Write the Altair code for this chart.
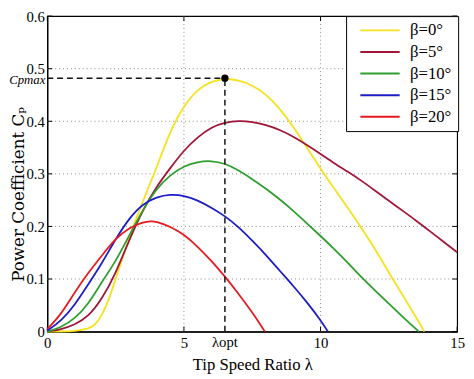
import altair as alt
import pandas as pd

# ---------------- data ----------------
series = ["β=0°", "β=5°", "β=10°", "β=15°", "β=20°"]
colors = ["#F5E21B", "#A01538", "#2E9E2E", "#1C1CC8", "#E61A1F"]

lam_b0 = [0, 0.5, 1, 1.5, 1.75, 2, 2.25, 2.5, 2.75, 3, 3.25, 3.5, 3.75, 4, 4.5, 5, 5.5, 6, 6.5,
          7, 7.5, 8, 8.5, 9, 9.5, 10, 10.5, 11, 11.5, 12, 12.5, 13, 13.5, 13.8]
cp_b0 = [0, 0, 0.001, 0.005, 0.012, 0.031, 0.06, 0.1, 0.14, 0.178, 0.215, 0.248, 0.28, 0.312, 0.382,
         0.43, 0.461, 0.476, 0.482, 0.478, 0.469, 0.452, 0.425, 0.39, 0.35, 0.31, 0.272, 0.235,
         0.197, 0.157, 0.112, 0.07, 0.027, 0]

lam_b5 = [0, 0.5, 1, 1.5, 2, 2.5, 3, 3.5, 4, 4.5, 5, 5.5, 6, 6.5, 7, 7.5, 8, 8.5, 9, 9.5, 10,
          10.5, 11, 11.5, 12, 12.5, 13, 13.5, 14, 14.5, 15]
cp_b5 = [0, 0.004, 0.013, 0.028, 0.062, 0.11, 0.175, 0.232, 0.276, 0.311, 0.345, 0.37, 0.389,
         0.398, 0.401, 0.399, 0.393, 0.384, 0.371, 0.355, 0.338, 0.32, 0.304, 0.287, 0.268, 0.249,
         0.23, 0.211, 0.191, 0.171, 0.151]

lam_b10 = [0, 0.5, 1, 1.5, 2, 2.5, 3, 3.5, 4, 4.5, 5, 5.5, 6, 6.5, 7, 7.5, 8, 8.5, 9, 9.5, 10,
           10.5, 11, 11.5, 12, 12.5, 13, 13.6]
cp_b10 = [0, 0.008, 0.024, 0.052, 0.095, 0.133, 0.183, 0.232, 0.272, 0.298, 0.315, 0.323, 0.325,
          0.32, 0.307, 0.29, 0.272, 0.252, 0.23, 0.206, 0.182, 0.157, 0.131, 0.103, 0.078, 0.053,
          0.028, 0]

lam_b15 = [0, 0.5, 1, 1.5, 2, 2.5, 3, 3.5, 4, 4.5, 5, 5.5, 6, 6.5, 7, 7.5, 8, 8.5, 9, 9.5, 10, 10.27]
cp_b15 = [0.002, 0.02, 0.05, 0.09, 0.13, 0.176, 0.216, 0.243, 0.256, 0.261, 0.259, 0.25, 0.236,
          0.22, 0.199, 0.173, 0.146, 0.116, 0.087, 0.056, 0.022, 0]

lam_b20 = [0, 0.5, 1, 1.5, 2, 2.5, 3, 3.5, 3.8, 4, 4.5, 5, 5.5, 6, 6.5, 7, 7.5, 7.96]
cp_b20 = [0.005, 0.032, 0.075, 0.112, 0.145, 0.177, 0.198, 0.208, 0.21, 0.209, 0.2, 0.185,
          0.162, 0.135, 0.105, 0.072, 0.037, 0]

lam_opt = 6.5
cp_max = 0.482

x_ticks = [0, 5, 10, 15]
y_ticks = [0, 0.1, 0.2, 0.3, 0.4, 0.5, 0.6]
x_grid = [5, 10]
y_grid = [0.1, 0.2, 0.3, 0.4, 0.5]

# ---------------- tables ----------------
rows = []
for name, lams, cps in zip(series, [lam_b0, lam_b5, lam_b10, lam_b15, lam_b20],
                           [cp_b0, cp_b5, cp_b10, cp_b15, cp_b20]):
    for l, c in zip(lams, cps):
        rows.append({"beta": name, "lam": l, "cp": c})
df = pd.DataFrame(rows)

opt = pd.DataFrame([{"x0": 0, "y0": 0, "lam": lam_opt, "cp": cp_max}])
xg = pd.DataFrame({"v": x_grid})
yg = pd.DataFrame({"v": y_grid})
xt = pd.DataFrame({"v": x_ticks})
yt = pd.DataFrame({"v": y_ticks})

W, H = 417, 321
FONT = "Liberation Serif"
xs = alt.Scale(domain=[0, 15], nice=False, zero=False)
ys = alt.Scale(domain=[0, 0.6], nice=False, zero=False)

AX = alt.Axis(values=x_ticks, title="Tip Speed Ratio λ", grid=False, ticks=False,
              tickSize=0, labelFlush=False, labelOverlap=False, labelPadding=4, titlePadding=7,
              titleFont=FONT, titleFontSize=17)
AY = alt.Axis(values=y_ticks, format="~g", title="Power Coefficient Cₚ", grid=False,
              ticks=False, tickSize=0, labelFlush=False, labelOverlap=False,
              labelPadding=3, titleFont="DejaVu Serif", titleFontSize=17,
              titleX=-24, titleY=181, titleBaseline="alphabetic")


def X(f):
    return alt.X(f, scale=xs, axis=AX, title="Tip Speed Ratio λ")


def Y(f):
    return alt.Y(f, scale=ys, axis=AY, title="Power Coefficient Cₚ")


grid_style = dict(color="#8a8a8a", strokeWidth=1, strokeDash=[1, 3])

lines = alt.Chart(df).mark_line(strokeWidth=1.8, interpolate="basis").encode(
    x=X("lam:Q"),
    y=Y("cp:Q"),
    color=alt.Color("beta:N", scale=alt.Scale(domain=series, range=colors),
                    legend=alt.Legend(title=None, orient="none", legendX=304, legendY=0,
                                      direction="vertical",
                                      strokeColor="black", fillColor="white", padding=6,
                                      cornerRadius=0, symbolType="M0,0H16",
                                      symbolStrokeWidth=2, symbolSize=25,
                                      labelFont=FONT, labelFontSize=17, labelColor="black",
                                      labelOffset=42, rowPadding=4)),
)

gx = alt.Chart(xg).mark_rule(**grid_style).encode(x=X("v:Q"))
gy = alt.Chart(yg).mark_rule(**grid_style).encode(y=Y("v:Q"))

# inward ticks on all four sides
tb = alt.Chart(xt).mark_rule(color="black").encode(x=X("v:Q"), y=alt.value(H), y2=alt.value(H - 5))
tt = alt.Chart(xt).mark_rule(color="black").encode(x=X("v:Q"), y=alt.value(0), y2=alt.value(5))
tl = alt.Chart(yt).mark_rule(color="black").encode(y=Y("v:Q"), x=alt.value(0), x2=alt.value(5))
tr = alt.Chart(yt).mark_rule(color="black").encode(y=Y("v:Q"), x=alt.value(W - 5), x2=alt.value(W))

hdash = alt.Chart(opt).mark_rule(color="#111", strokeWidth=1.5, strokeDash=[6, 4]).encode(
    x=X("x0:Q"), x2="lam:Q", y=Y("cp:Q"))
vdash = alt.Chart(opt).mark_rule(color="#111", strokeWidth=1.5, strokeDash=[6, 4]).encode(
    x=X("lam:Q"), y=Y("y0:Q"), y2="cp:Q")
dot = alt.Chart(opt).mark_circle(size=55, color="black", opacity=1).encode(
    x=X("lam:Q"), y=Y("cp:Q"))

cpmax_lbl = alt.Chart(opt).mark_text(
    text="Cpmax", align="right", baseline="middle", font=FONT, fontStyle="italic",
    fontSize=13, color="black", dy=2).encode(x=alt.value(-2), y=Y("cp:Q"))
lopt_lbl = alt.Chart(opt).mark_text(
    text="λopt", align="center", baseline="top", font=FONT, fontSize=15,
    color="black").encode(x=X("lam:Q"), y=alt.value(H + 4))

chart = alt.layer(gx, gy, tb, tt, tl, tr, lines, hdash, vdash, dot, cpmax_lbl, lopt_lbl).properties(
    width=W, height=H,
    autosize=alt.AutoSizeParams(type="none"),
    padding={"left": 40, "top": 5, "right": 9, "bottom": 46},
).configure_view(stroke="black", strokeWidth=1.2).configure_axis(
    labelFont=FONT, labelFontSize=15, labelColor="black",
    titleFontWeight="normal", titleColor="black", domainColor="black", domainWidth=1.2,
)

chart.save("out.html", embed_options={"renderer": "svg", "actions": False})
